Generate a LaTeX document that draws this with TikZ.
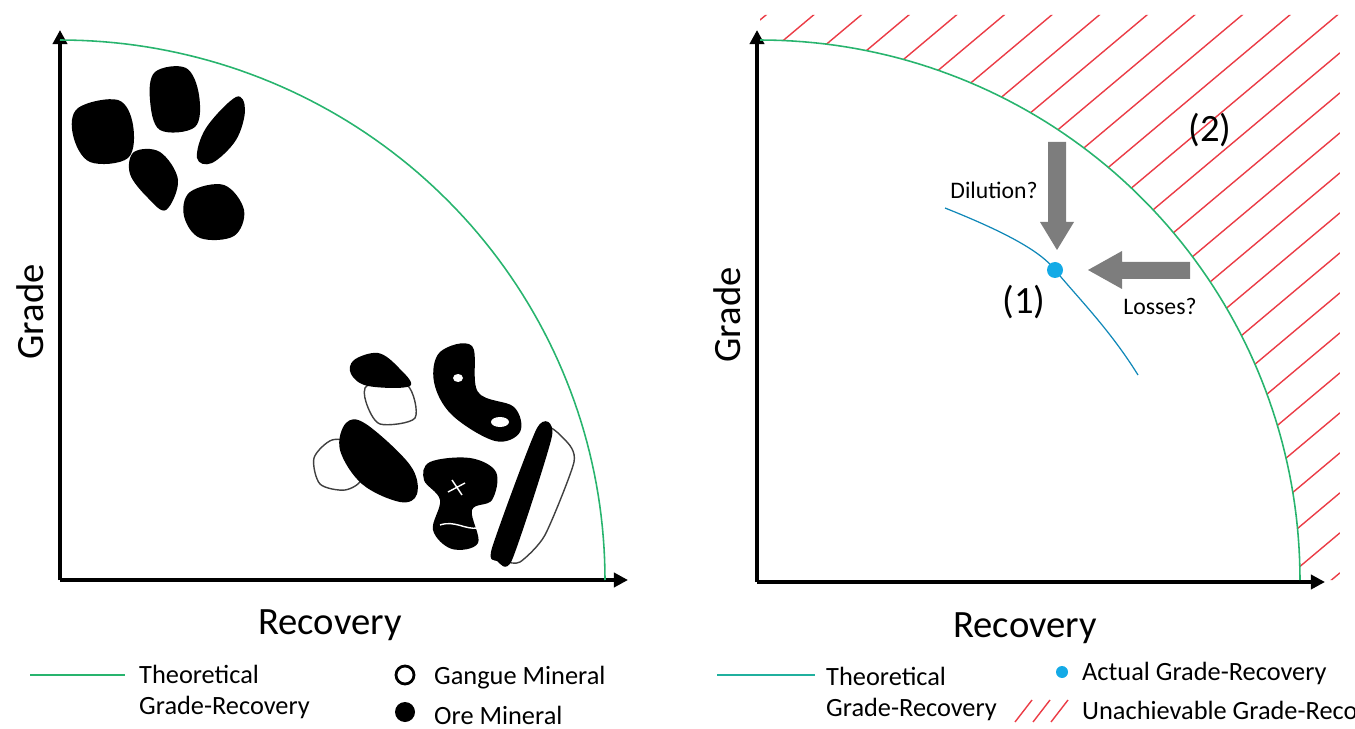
\documentclass[tikz,border=0pt]{standalone}
\usepackage{fontspec}
\setmainfont{Carlito}
\definecolor{curvegreen}{RGB}{40,180,110}
\definecolor{dotblue}{RGB}{20,170,230}
\definecolor{hatchred}{RGB}{235,60,70}
\definecolor{arrgray}{RGB}{125,125,125}
\begin{document}
\begin{tikzpicture}[x=0.02cm,y=-0.02cm,
  axis/.style={line width=2.4pt,-{Triangle[width=8pt,length=8pt]}},
  theo/.style={curvegreen,line width=0.9pt},
  hatch/.style={hatchred,line width=0.8pt},
  gangue/.style={fill=white,draw=black!75,line width=0.8pt},
  lbl/.style={font=\fontsize{22}{24}\selectfont},
  leg/.style={font=\fontsize{15}{18}\selectfont,align=left,anchor=west},
  small/.style={font=\fontsize{13.5}{15}\selectfont}]
\useasboundingbox (0,0) rectangle (1355,729);
\usetikzlibrary{arrows.meta}
% ---------- left panel
\coordinate (lo) at (60,580);
\coordinate (ly) at (60,30);
\coordinate (lx) at (628,580);
\draw[axis] (lo) -- (ly);
\draw[axis] (lo) -- (lx);
\draw[theo] plot[domain=0:90,samples=80] ({60+545*cos(\x)},{580-540*sin(\x)});
\node[lbl,rotate=90] (lg) at (30,312) {Grade};
\node[lbl] (lr) at (330,625) {Recovery};
% top-left ore particles
\fill plot[smooth cycle,tension=0.6] coordinates {(78,108) (118,100) (133,125) (128,158) (90,162) (73,135)};
\fill plot[smooth cycle,tension=0.6] coordinates {(155,72) (186,68) (199,95) (195,127) (160,130) (150,100)};
\fill plot[smooth cycle,tension=0.6] coordinates {(236,97) (245,110) (236,140) (212,163) (197,158) (206,128)};
\fill plot[smooth cycle,tension=0.6] coordinates {(134,152) (160,152) (178,180) (166,210) (148,198) (130,174)};
\fill plot[smooth cycle,tension=0.6] coordinates {(190,192) (224,185) (244,210) (234,236) (200,238) (184,216)};
% bottom-right mixed particles
\draw[gangue] plot[smooth cycle,tension=0.5] coordinates {(368,385) (407,385) (415,418) (380,424) (366,402)};
\fill plot[smooth cycle,tension=0.6] coordinates {(354,360) (378,353) (398,367) (410,386) (368,386) (351,374)};
\fill plot[smooth cycle,tension=0.6] coordinates {(440,352) (472,346) (478,392) (514,407) (520,432) (495,441) (452,415) (434,382)};
\fill[white] (458,378) ellipse (5 and 4);
\fill[white] (500,422) ellipse (9 and 5);
\draw[gangue] plot[smooth cycle,tension=0.5] coordinates {(332,440) (355,445) (362,478) (345,490) (320,484) (314,458)};
\fill plot[smooth cycle,tension=0.6] coordinates {(346,423) (366,424) (410,465) (417,494) (400,502) (362,484) (340,450)};
\fill plot[smooth cycle,tension=0.6] coordinates {(430,462) (470,458) (496,472) (492,500) (472,510) (478,543) (452,549) (433,530) (440,500) (424,480)};
\draw[white,line width=0.8pt] (452,480) -- (462,495) (448,492) -- (465,483) (440,525) .. controls (455,520) and (465,530) .. (478,528);
\draw[gangue] plot[smooth cycle,tension=0.4] coordinates {(540,430) (565,440) (574,462) (545,535) (520,562) (505,560) (500,540)};
\fill plot[smooth cycle,tension=0.4] coordinates {(537,428) (552,436) (512,560) (497,561) (492,548)};
% left legend
\coordinate (ll1) at (30,675); \coordinate (ll2) at (125,675);
\draw[theo] (ll1) -- (ll2);
\node[leg] (lt) at (133,692) {Theoretical\\Grade-Recovery};
\draw[black,line width=1.6pt,fill=white] (405,675) circle (9);
\fill (405,712) circle (10);
\node[leg] (lgm) at (428,678) {Gangue Mineral};
\node[leg] (lom) at (428,715) {Ore Mineral};
% ---------- right panel
\begin{scope}
\clip plot[domain=90:0,samples=80] ({760+540*cos(\x)},{580-540*sin(\x)}) -- (1340,580) -- (1340,15) -- (760,15) -- cycle;
\foreach \c in {20,60,...,1200} \draw[hatch] (760,\c) -- (1340,{\c-0.84*580});
\end{scope}
\coordinate (ro) at (757,582);
\coordinate (ry) at (757,30);
\coordinate (rx) at (1325,582);
\draw[axis] (ro) -- (ry);
\draw[axis] (ro) -- (rx);
\draw[theo] plot[domain=0:90,samples=80] ({760+540*cos(\x)},{580-540*sin(\x)});
\node[lbl,rotate=90] (rg) at (727,315) {Grade};
\node[lbl] (rr) at (1025,628) {Recovery};
\draw[dotblue!80!black,line width=0.7pt] (945,208) .. controls (1000,230) and (1040,250) .. (1055,270) .. controls (1080,300) and (1110,330) .. (1138,375);
\fill[arrgray] (1048,142) -- (1066,142) -- (1066,222) -- (1074,222) -- (1057,250) -- (1040,222) -- (1048,222) -- cycle;
\fill[arrgray] (1190,262) -- (1190,279) -- (1122,279) -- (1122,289) -- (1088,270) -- (1122,251) -- (1122,262) -- cycle;
\fill[dotblue] (1055,270) circle (8);
\node[small] (dil) at (994,190) {Dilution?};
\node[small] (los) at (1160,306) {Losses?};
\node[lbl] (p1) at (1024,302) {(1)};
\node[lbl] (p2) at (1210,130) {(2)};
% right legend
\coordinate (rl1) at (717,675); \coordinate (rl2) at (815,675);
\draw[theo,curvegreen!60!dotblue] (rl1) -- (rl2);
\node[leg] (rt) at (820,694) {Theoretical\\Grade-Recovery};
\fill[dotblue] (1062,672) circle (6);
\node[leg] (ra) at (1076,673) {Actual Grade-Recovery};
\foreach \dx in {0,18,36} \draw[hatch] (1015+\dx,722) -- (1032+\dx,700);
\node[leg] (ru) at (1076,712) {Unachievable Grade-Recovery};
\end{tikzpicture}
\end{document}
